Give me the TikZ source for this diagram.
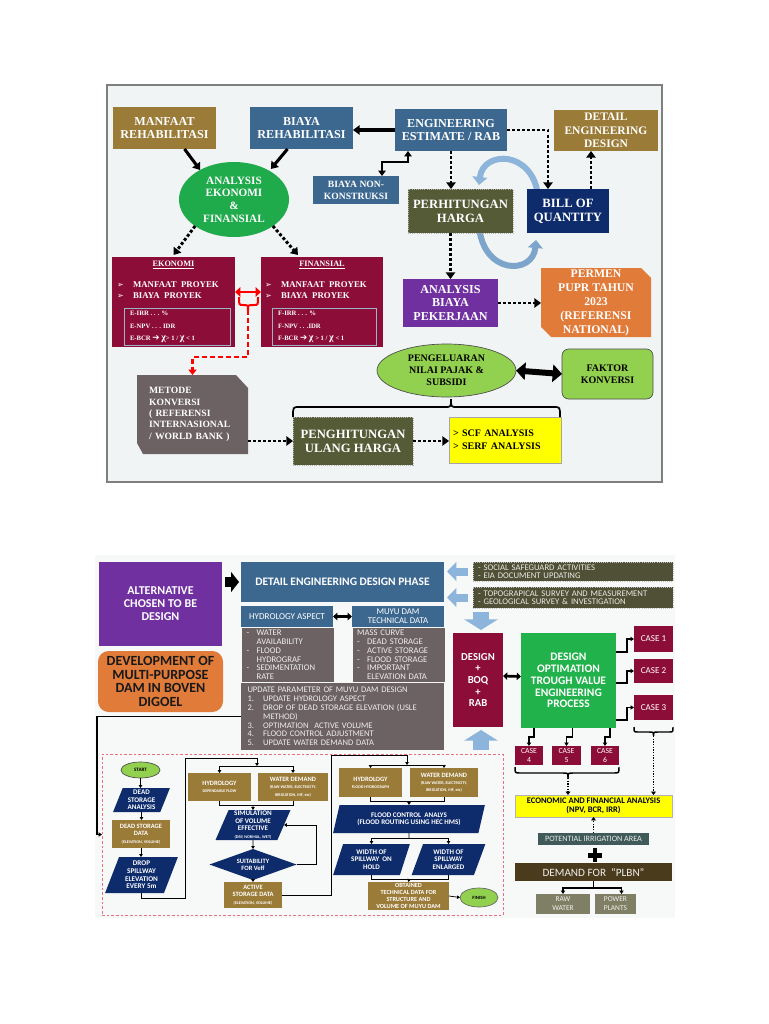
\documentclass[tikz,border=0pt]{standalone}
\usepackage{fontspec}
\setmainfont{Liberation Serif}
\newfontfamily\carl{Carlito}
\newfontfamily\dejavu{DejaVu Sans}
\usetikzlibrary{shapes.geometric,arrows.meta,calc}
\newcommand\fs[2]{\fontsize{#1}{#2}\selectfont}
\definecolor{crim}{HTML}{8C0D38}
\definecolor{steel}{HTML}{3C6890}
\definecolor{ochre}{HTML}{9B7B38}
\definecolor{navy}{HTML}{0E2C6C}
\definecolor{grn}{HTML}{1FAA4B}
\definecolor{vgrn}{HTML}{22B24C}
\definecolor{lgrn}{HTML}{92D050}
\definecolor{purp}{HTML}{7030A0}
\definecolor{orng}{HTML}{E07B39}
\definecolor{mauve}{HTML}{6C6163}
\definecolor{olive}{HTML}{555B36}
\definecolor{olivb}{HTML}{4F5035}
\definecolor{dbrown}{HTML}{4A3B1C}
\definecolor{gol}{HTML}{7E7F64}
\definecolor{tealg}{HTML}{3F5A59}
\definecolor{lblue}{HTML}{8DB4DA}
\definecolor{ylw}{HTML}{FFFF00}
\definecolor{pinkred}{HTML}{E8707F}
\definecolor{toppanel}{HTML}{F1F4F4}
\definecolor{botpanel}{HTML}{F7F8F8}
\definecolor{framegray}{HTML}{7F7F7F}
\tikzset{
  sz/.style args={#1/#2}{minimum width=#1*0.75pt, minimum height=#2*0.75pt},
  base/.style={inner sep=0pt, outer sep=0pt, align=center},
  tbox/.style={base, rectangle, text=white, font=\bfseries\fs{9.1}{10}},
  bbox/.style={base, rectangle, text=white, font=\carl\bfseries\fs{8}{8.5}},
  fbox/.style={base, rectangle, fill=ochre, text=white, font=\carl\bfseries\fs{4.9}{5.4}},
  para/.style={base, trapezium, trapezium left angle=70, trapezium right angle=110, trapezium stretches=true, fill=navy, text=white, font=\carl\bfseries\fs{5.3}{5.6}},
  arrT/.style={line width=2.3pt, -{Triangle[length=5pt,width=7pt]}},
  dotA/.style={line width=2.2pt, dash pattern=on 2.2pt off 1.6pt, -{Triangle[length=5pt,width=7pt]}},
  dotB/.style={line width=1.1pt, dash pattern=on 1.1pt off 0.9pt, -{Triangle[length=2.6pt,width=3.6pt]}},
  fl/.style={line width=0.55pt, -{Triangle[length=2.2pt,width=2.6pt]}},
  fln/.style={line width=0.55pt},
  fl2/.style={line width=0.9pt, -{Triangle[length=2.6pt,width=3.2pt]}},
  dbl/.style={line width=2pt, {Triangle[length=3.2pt,width=5.5pt]}-{Triangle[length=3.2pt,width=5.5pt]}},
}
\begin{document}
\begin{tikzpicture}[x=0.75pt,y=-0.75pt]
\useasboundingbox (0,0) rectangle (768,1024);
\fill[white] (0,0) rectangle (768,1024);

%================ TOP PANEL =================
\fill[toppanel] (107,85) rectangle (662,482);
\draw[framegray, line width=1.2pt] (107,85) rectangle (662,482);

% circular arrows
\draw[lblue, line width=4.5pt, -{Triangle[length=6pt,width=11pt]}] (538,196) .. controls (533,150) and (483,150) .. (479,185);
\draw[lblue!80!steel, line width=4.5pt, -{Triangle[length=6pt,width=11pt]}] (479,226) .. controls (483,275) and (533,275) .. (536,240);

\node[tbox, fill=ochre, sz=103/42] (mr) at (164.5,128) {MANFAAT\\REHABILITASI};
\node[tbox, fill=steel, sz=103/42] (br) at (301.5,128) {BIAYA\\REHABILITASI};
\node[tbox, fill=steel, sz=112/42] (ee) at (451,130) {ENGINEERING\\ESTIMATE / RAB};
\node[tbox, fill=ochre, sz=104/41, font=\bfseries\fs{8.6}{10}] (ded) at (606,130.5) {DETAIL\\ENGINEERING\\DESIGN};
\node[base, ellipse, fill=grn, sz=110/75, text=white, font=\bfseries\fs{8.4}{9.5}] (ae) at (234,199.5) {ANALYSIS\\EKONOMI\\\&\\FINANSIAL};
\node[tbox, fill=steel, sz=86/28, font=\bfseries\fs{7.2}{9}] (bnk) at (356,190) {BIAYA NON-\\KONSTRUKSI};
\node[tbox, fill=olive, draw=gray!60, densely dotted, line width=0.6pt, sz=105/44, font=\bfseries\fs{9.5}{10.5}] (ph) at (460.5,211) {PERHITUNGAN\\HARGA};
\node[tbox, fill=navy, sz=82/44, font=\bfseries\fs{9.5}{10.5}] (boq) at (568,211) {BILL OF\\QUANTITY};
\node[tbox, fill=purp, sz=95/48] (abp) at (450.5,303) {ANALYSIS\\BIAYA\\PEKERJAAN};

\fill[orng] (541,268) -- (641,268) -- (651,278) -- (651,337) -- (551,337) -- (541,327) -- cycle;
\node[tbox, sz=110/69, font=\bfseries\fs{8.8}{10.5}] (permen) at (596,302.5) {PERMEN\\PUPR TAHUN\\2023\\(REFERENSI\\NATIONAL)};

\node[base, ellipse, fill=lgrn, draw=black!70, line width=0.5pt, sz=139/53, font=\bfseries\fs{7.5}{9}] (pn) at (446.5,370.5) {PENGELUARAN\\NILAI PAJAK \&\\SUBSIDI};
\node[base, rounded corners=5pt, fill=lgrn, draw=black!70, line width=0.5pt, sz=91/50, font=\bfseries\fs{7.5}{9.2}] (fk) at (607.5,374) {FAKTOR\\KONVERSI};
\node[tbox, fill=olive, draw=gray!60, densely dotted, line width=0.6pt, sz=120/48, font=\bfseries\fs{9.5}{10.5}] (puh) at (353,441) {PENGHITUNGAN\\ULANG HARGA};
\node[base, fill=ylw, draw=gray!70, line width=0.4pt, sz=112/46, text width=78pt, align=left, font=\bfseries\fs{7.5}{9.5}] (scf) at (505,440) {> SCF ANALYSIS\\> SERF ANALYSIS};

\fill[mauve] (137,375) -- (236,375) -- (248,388) -- (248,454) -- (143,454) -- (137,443) -- cycle;
\node[base, sz=111/79, text width=65pt, align=left, text=white, font=\bfseries\fs{7.2}{8.5}] (mk) at (192.5,414.5) {METODE\\KONVERSI\\( REFERENSI\\INTERNASIONAL\\/ WORLD BANK )};

% EKONOMI box
\node[base, fill=crim, sz=123/90] (eko) at (173.5,302) {};
\node[base, text=white, font=\bfseries\fs{6.2}{7}] (ekot) at (173.5,265) {\underline{EKONOMI}};
\node[base, anchor=west, text=white, font=\bfseries\fs{6.6}{7}] (ekob1) at (117,285) {{\dejavu\fs{6}{6}➢}\hspace{7pt}MANFAAT\ \ PROYEK};
\node[base, anchor=west, text=white, font=\bfseries\fs{6.6}{7}] (ekob2) at (117,296) {{\dejavu\fs{6}{6}➢}\hspace{7pt}BIAYA\ \ PROYEK};
\node[base, draw=steel!50!white, line width=0.5pt, sz=106/37] (ekoi) at (177,326.5) {};
\node[base, anchor=west, text=white, font=\bfseries\fs{5}{6}] (ekoi1) at (130,313) {E-IRR . . . \%};
\node[base, anchor=west, text=white, font=\bfseries\fs{5}{6}] (ekoi2) at (130,326) {E-NPV . . . IDR};
\node[base, anchor=west, text=white, font=\bfseries\fs{5}{6}] (ekoi3) at (130,339) {E-BCR {\dejavu\fs{6.5}{7}➔} {\fs{7.5}{7.5}χ}> 1 / {\fs{7.5}{7.5}χ} < 1};

% FINANSIAL box
\node[base, fill=crim, sz=122/90] (fins) at (322,302) {};
\node[base, text=white, font=\bfseries\fs{6.2}{7}] (finst) at (322,265) {\underline{FINANSIAL}};
\node[base, anchor=west, text=white, font=\bfseries\fs{6.6}{7}] (finb1) at (265,285) {{\dejavu\fs{6}{6}➢}\hspace{7pt}MANFAAT\ \ PROYEK};
\node[base, anchor=west, text=white, font=\bfseries\fs{6.6}{7}] (finb2) at (265,296) {{\dejavu\fs{6}{6}➢}\hspace{7pt}BIAYA\ \ PROYEK};
\node[base, draw=steel!50!white, line width=0.5pt, sz=104/37] (finsi) at (324,326.5) {};
\node[base, anchor=west, text=white, font=\bfseries\fs{5}{6}] (fini1) at (278,313) {F-IRR . . . \%};
\node[base, anchor=west, text=white, font=\bfseries\fs{5}{6}] (fini2) at (278,326) {F-NPV . . .IDR};
\node[base, anchor=west, text=white, font=\bfseries\fs{5}{6}] (fini3) at (278,339) {F-BCR {\dejavu\fs{6.5}{7}➔} {\fs{7.5}{7.5}χ} > 1 / {\fs{7.5}{7.5}χ} < 1};

% top connectors
\draw[arrT] ($(mr.south)+(20,0)$) -- ($(ae.north west)+(5,-3)$);
\draw[arrT] ($(br.south)+(-14,0)$) -- ($(ae.north east)+(-2,-4)$);
\draw[arrT] (ee.west) -- (ee.west -| br.east);
\draw[line width=1.6pt, {Triangle[length=4pt,width=5.5pt]}-{Triangle[length=4pt,width=5.5pt]}] ($(bnk.north)+(26,0)$) |- ($(ee.south)+(-43,11)$) -- ($(ee.south)+(-43,0)$);
\draw[dotA] (ee.south) -- (ee.south |- ph.north);
\draw[dotA] (ee.east) -| ($(boq.north)+(-20,0)$);
\draw[dotA] ($(boq.north)+(23,0)$) -- ($(ded.south)+(-15,0)$);
\draw[dotA] ($(ph.south)+(-10,0)$) -- (abp.north);
\draw[dotA] (abp.east) -- (abp.east -| permen.west);
\draw[dotA] (ae.south west) -- ($(eko.north)+(0,-2)$);
\draw[dotA] (ae.south east) -- ($(fins.north)+(-24,-2)$);
\draw[red, line width=2.2pt, {Triangle[length=4pt,width=7pt]}-{Triangle[length=4pt,width=7pt]}] ($(eko.east)+(0,-10)$) -- ($(fins.west)+(0,-10)$);
\draw[red, line width=1.5pt] (239,297) .. controls (239,305) .. (243,305) -- (245,305) .. controls (248,305) .. (248,310) .. controls (248,305) .. (251,305) -- (254,305) .. controls (258,305) .. (258,297);
\coordinate (rb) at (248,310);
\draw[red, line width=1.7pt, dash pattern=on 4pt off 2pt, -{Triangle[length=4pt,width=6pt]}] (rb) |- ($(mk.north)+(0,-18)$) -- (mk.north);
\draw[dotA] (mk.east |- puh.west) -- (puh.west);
\draw[dotA] (puh.east) -- (puh.east -| scf.west);
\draw[line width=4.5pt, {Triangle[length=7pt,width=13pt]}-{Triangle[length=7pt,width=13pt]}] (pn.east) -- (fk.west);
\draw[line width=1.3pt] (293,417) .. controls (293,407) .. (299,407) -- (445,407) .. controls (451,407) .. (451,399) .. controls (451,407) .. (457,407) -- (554,407) .. controls (560,407) .. (560,417);

%================ BOTTOM PANEL =================
\fill[botpanel] (95,555) rectangle (675,918);

\node[bbox, fill=purp, sz=123/84, font=\carl\bfseries\fs{9}{9.7}] (alt) at (160.5,604) {ALTERNATIVE\\CHOSEN TO BE\\DESIGN};
\node[base, fill=orng, rounded corners=8pt, sz=125/61, text=black!90, font=\carl\bfseries\fs{10.5}{10.1}] (dev) at (160.5,681.5) {DEVELOPMENT OF\\MULTI-PURPOSE\\DAM IN BOVEN\\DIGOEL};
\node[bbox, fill=steel, sz=203/40, font=\carl\bfseries\fs{8.6}{9}] (dedp) at (342.5,582) {DETAIL ENGINEERING DESIGN PHASE};

\node[base, fill=mauve, sz=92/54, text width=62pt, align=left, text=white!90!mauve, font=\carl\fs{6.5}{6.6}] (hyL) at (288,655) {\makebox[7.5pt][l]{-}WATER\\\makebox[7.5pt][l]{}AVAILABILITY\\\makebox[7.5pt][l]{-}FLOOD\\\makebox[7.5pt][l]{}HYDROGRAF\\\makebox[7.5pt][l]{-}SEDIMENTATION\\\makebox[7.5pt][l]{}RATE};
\node[base, fill=mauve, sz=92/54, text width=62pt, align=left, text=white!90!mauve, font=\carl\fs{6.5}{6.6}] (muL) at (398.5,655) {MASS CURVE\\\makebox[7.5pt][l]{-}DEAD STORAGE\\\makebox[7.5pt][l]{-}ACTIVE STORAGE\\\makebox[7.5pt][l]{-}FLOOD STORAGE\\\makebox[7.5pt][l]{-}IMPORTANT\\\makebox[7.5pt][l]{}ELEVATION DATA};
\node[bbox, fill=steel, sz=92/21, font=\carl\fs{6.8}{6.9}] (hyA) at (287,616.5) {HYDROLOGY ASPECT};
\node[bbox, fill=steel, sz=92/21, font=\carl\fs{6.6}{6.9}] (muyu) at (398,616.5) {MUYU DAM\\TECHNICAL DATA};
\node[base, fill=mauve, sz=203/67, text width=142.5pt, align=left, text=white!90!mauve, font=\carl\fs{6.4}{6.6}] (upd) at (342.5,716.5) {UPDATE PARAMETER OF MUYU DAM DESIGN\\\makebox[11.8pt][l]{1.}UPDATE HYDROLOGY ASPECT\\\makebox[11.8pt][l]{2.}DROP OF DEAD STORAGE ELEVATION (USLE\\\makebox[11.8pt][l]{}METHOD)\\\makebox[11.8pt][l]{3.}OPTIMATION\ \ ACTIVE VOLUME\\\makebox[11.8pt][l]{4.}FLOOD CONTROL ADJUSTMENT\\\makebox[11.8pt][l]{5.}UPDATE WATER DEMAND DATA};

\node[base, fill=olivb, draw=gray!50, densely dotted, line width=0.6pt, sz=200/19, text width=142.5pt, align=left, text=white!88!olivb, font=\carl\fs{6.5}{5.8}] (soc) at (573,571.5) {- SOCIAL SAFEGUARD ACTIVITIES\\- EIA DOCUMENT UPDATING};
\node[base, fill=olivb, draw=gray!50, densely dotted, line width=0.6pt, sz=200/21, text width=142.5pt, align=left, text=white!88!olivb, font=\carl\fs{6.5}{5.8}] (topo) at (573,597.5) {- TOPOGRAPICAL SURVEY AND MEASUREMENT\\- GEOLOGICAL SURVEY \& INVESTIGATION};

\node[bbox, fill=crim, sz=50/94, font=\carl\bfseries\fs{8}{8.8}] (dsg) at (478,680) {DESIGN\\+\\BOQ\\+\\RAB};
\node[bbox, fill=vgrn, sz=95/95, font=\carl\bfseries\fs{8.6}{8.9}] (dop) at (568.5,680.5) {DESIGN\\OPTIMATION\\TROUGH VALUE\\ENGINEERING\\PROCESS};
\node[bbox, fill=crim, sz=39/26, font=\carl\fs{6.8}{7}] (c1) at (653.5,639) {CASE 1};
\node[bbox, fill=crim, sz=39/24, font=\carl\fs{6.8}{7}] (c2) at (653.5,671) {CASE 2};
\node[bbox, fill=crim, sz=39/25, font=\carl\fs{6.8}{7}] (c3) at (653.5,707.5) {CASE 3};
\node[bbox, fill=crim, sz=28/19, font=\carl\fs{5.8}{6.7}] (c4) at (529,755.5) {CASE\\4};
\node[bbox, fill=crim, sz=29/19, font=\carl\fs{5.8}{6.7}] (c5) at (566.5,755.5) {CASE\\5};
\node[bbox, fill=crim, sz=28/19, font=\carl\fs{5.8}{6.7}] (c6) at (605,755.5) {CASE\\6};
\node[base, fill=ylw, draw=gray!60, line width=0.5pt, sz=157/22, text=black!85!blue, font=\carl\bfseries\fs{6.4}{6.8}] (efa) at (593.5,806) {ECONOMIC AND FINANCIAL ANALYSIS\\(NPV, BCR, IRR)};
\node[base, fill=tealg, sz=111/12, text=white!90!tealg, font=\carl\fs{6.1}{6.5}] (pia) at (593.5,839) {POTENTIAL IRRIGATION AREA};
\node[base, fill=dbrown, sz=157/18, text=white!92!dbrown, font=\carl\fs{8.4}{9}] (dem) at (593.5,872) {DEMAND FOR \ “PLBN”};
\node[base, fill=gol, sz=54/20, text=white!90!gol, font=\carl\fs{5.6}{6.8}] (raw) at (563,904) {RAW\\WATER};
\node[base, fill=gol, sz=41/20, text=white!90!gol, font=\carl\fs{5.6}{6.8}] (pow) at (615.5,904) {POWER\\PLANTS};
\fill (588,853) rectangle (602,857.5);
\fill (592.8,848) rectangle (597.3,862);

% bottom connectors
\draw[line width=7pt, -{Triangle[length=6pt,width=15pt]}] ($(alt.east |- dedp.west)+(3,0)$) -- ($(dedp.west)+(-2,0)$);
\draw[dbl] (hyA.east) -- (muyu.west);
\draw[lblue, line width=6pt, -{Triangle[length=7pt,width=14pt]}] ($(soc.west)+(-5,0)$) -- ($(dedp.east |- soc.west)+(3,0)$);
\draw[lblue, line width=6pt, -{Triangle[length=7pt,width=14pt]}] ($(topo.west)+(-5,0)$) -- ($(dedp.east |- topo.west)+(3,0)$);
\draw[lblue, line width=12pt, -{Triangle[length=8pt,width=25pt]}] ($(dsg.north)+(3,-21)$) -- ($(dsg.north)+(3,-3)$);
\draw[lblue, line width=12pt, -{Triangle[length=8pt,width=25pt]}] ($(dsg.south)+(3,23)$) -- ($(dsg.south)+(3,3)$);
\draw[dbl] ($(dsg.east)+(0,-4)$) -- ($(dop.west)+(0,-4)$);
\draw[fl2] (dop.east |- c1.south) -- ++(11,0) |- (c1.west);
\draw[fl2] (dop.east |- c2.south) -- ++(11,0) |- (c2.west);
\draw[fl2] (dop.east |- c3.south) -- ++(11,0) |- (c3.west);
\draw[fl2] (dop.south -| c4.north) ++(5,0) -- ++(0,9) -| (c4.north);
\draw[fl2] (dop.south -| c5.north) ++(6,0) -- ++(0,9) -| (c5.north);
\draw[fl2] (dop.south -| c6.north) ++(5,0) -- ++(0,9) -| (c6.north);
\draw[line width=1.1pt] (634,727) .. controls (634,732) .. (638,732) -- (649,732) .. controls (653.5,732) .. (653.5,736) .. controls (653.5,732) .. (658,732) -- (669,732) .. controls (673,732) .. (673,727);
\draw[line width=1.1pt] (515,767) .. controls (515,773) .. (520,773) -- (563,773) .. controls (568,773) .. (568,778) .. controls (568,773) .. (573,773) -- (614,773) .. controls (619,773) .. (619,767);
\coordinate (br13) at (653.5,736);
\coordinate (br46) at (568,778);
\draw[dotB] (br13) -- (br13 |- efa.north);
\draw[dotB] (br46) -- (br46 |- efa.north);
\draw[dotB] (pia.north) -- (efa.south);
\coordinate (jd) at ($(dem.south)+(0,7)$);
\draw[line width=0.9pt] (dem.south) -- (jd);
\draw[fl2] (jd) -| (raw.north);
\draw[fl2] (jd) -| ($(pow.north)+(6,0)$);

% flowchart
\node[base, draw=pinkred, line width=0.7pt, dash pattern=on 2pt off 1.5pt, sz=401/161] (frame) at (302.5,834.5) {};
\draw[fl2] (upd.west) -- ++(-144,0) |- (frame.west);

\node[base, ellipse, fill=lgrn, draw=black!70, line width=0.5pt, sz=39/16, font=\carl\bfseries\fs{3.8}{4}] (st) at (140.5,770) {START};
\node[para, sz=57/24] (dsa) at (141.5,800) {DEAD\\STORAGE\\ANALYSIS};
\node[fbox, sz=58/28] (dsd) at (141,834) {DEAD STORAGE\\DATA\\{\fs{3.1}{3.5}(ELEVATION, VOLUME)}};
\node[para, sz=73/36, font=\carl\bfseries\fs{5.4}{5.8}] (drop) at (141.5,875) {DROP\\SPILLWAY\\ELEVATION\\EVERY 5m};
\node[fbox, sz=63/28] (hyd1) at (219.5,787) {HYDROLOGY\\{\fs{3.1}{3.5}DEPENDABLE FLOW}};
\node[fbox, sz=70/28] (wd1) at (293,787) {WATER DEMAND\\{\fs{3.1}{3.3}(RAW WATER, ELECTRICITY,}\\{\fs{3.1}{3.3}IRRIGATION, MF, etc)}};
\node[para, sz=75/30] (sim) at (253,825) {SIMULATION\\OF VOLUME\\EFFECTIVE\\{\fs{3.1}{3.3}(DRY, NORMAL, WET)}};
\node[base, diamond, aspect=2.8, fill=navy, sz=87/31, text=white, font=\carl\bfseries\fs{4.9}{5.4}] (suit) at (253,864.5) {SUITABILITY\\FOR Veff};
\node[fbox, sz=58/26] (act) at (253,895) {ACTIVE\\STORAGE DATA\\{\fs{3.1}{3.3}(ELEVATION, VOLUME)}};
\node[fbox, sz=63/29] (hyd2) at (370.5,782.5) {HYDROLOGY\\{\fs{3.1}{3.3}FLOOD HYDROGRAPH}};
\node[fbox, sz=68/29] (wd2) at (444,782.5) {WATER DEMAND\\{\fs{3.1}{3.3}(RAW WATER, ELECTRICITY,}\\{\fs{3.1}{3.3}IRRIGATION, MF, etc)}};
\node[para, sz=152/28] (fca) at (409,819) {FLOOD CONTROL\ \ ANALYS\\(FLOOD ROUTING USING HEC HMS)};
\node[para, sz=77/31] (wsh) at (371.5,859.5) {WIDTH OF\\SPILLWAY\ \ ON\\HOLD};
\node[para, sz=74/31] (wse) at (448.5,859.5) {WIDTH OF\\SPILLWAY\\ENLARGED};
\node[fbox, sz=81/28, font=\carl\bfseries\fs{4.7}{5.2}] (obt) at (408.5,896) {OBTAINED\\TECHNICAL DATA FOR\\STRUCTURE AND\\VOLUME OF MUYU DAM};
\node[base, ellipse, fill=lgrn, draw=black!60, line width=0.5pt, sz=38/19, font=\carl\bfseries\fs{3.6}{4}] (fin2) at (479,897.5) {FINISH};

\draw[fl] (st.south) -- (st.south |- dsa.north);
\draw[fl] (dsa.south) -- (dsa.south |- dsd.north);
\draw[fl] (dsd.south) -- (dsd.south |- drop.north);
\coordinate (j1) at (257,766);
\draw[fl] (drop.south) -- ++(0,5) -| (185,758) -| (j1);
\draw[fl] (j1) -| (hyd1.north);
\draw[fl] (j1) -| (wd1.north);
\coordinate (j2) at (253,805);
\draw[fln] (hyd1.south) |- (j2);
\draw[fln] (wd1.south) |- (j2);
\draw[fl] (j2) -- (sim.north);
\draw[fl] (sim.south) -- (suit.north);
\draw[fl] (suit.south) -- (act.north);
\draw[fl] (suit.east) -- ++(20,0) |- (sim.east);
\coordinate (j3) at (407,765);
\draw[fl] (act.east) -| (331,755) -| (j3);
\draw[fl] (j3) -| (hyd2.north);
\draw[fl] (j3) -| (wd2.north);
\coordinate (j4) at (409,801);
\draw[fln] (hyd2.south) |- (j4);
\draw[fln] (wd2.south) |- (j4);
\draw[fl] (j4) -- (fca.north);
\coordinate (j5) at (409,838);
\draw[fln] (fca.south) -- (j5);
\draw[fl] (j5) -| (wsh.north);
\draw[fl] (j5) -| (wse.north);
\coordinate (j6) at (409,879);
\draw[fln] (wsh.south) |- (j6);
\draw[fln] (wse.south) |- (j6);
\draw[fl] (j6) -- (obt.north);
\draw[fl] (obt.east) -- (fin2.west);
\end{tikzpicture}
\end{document}
